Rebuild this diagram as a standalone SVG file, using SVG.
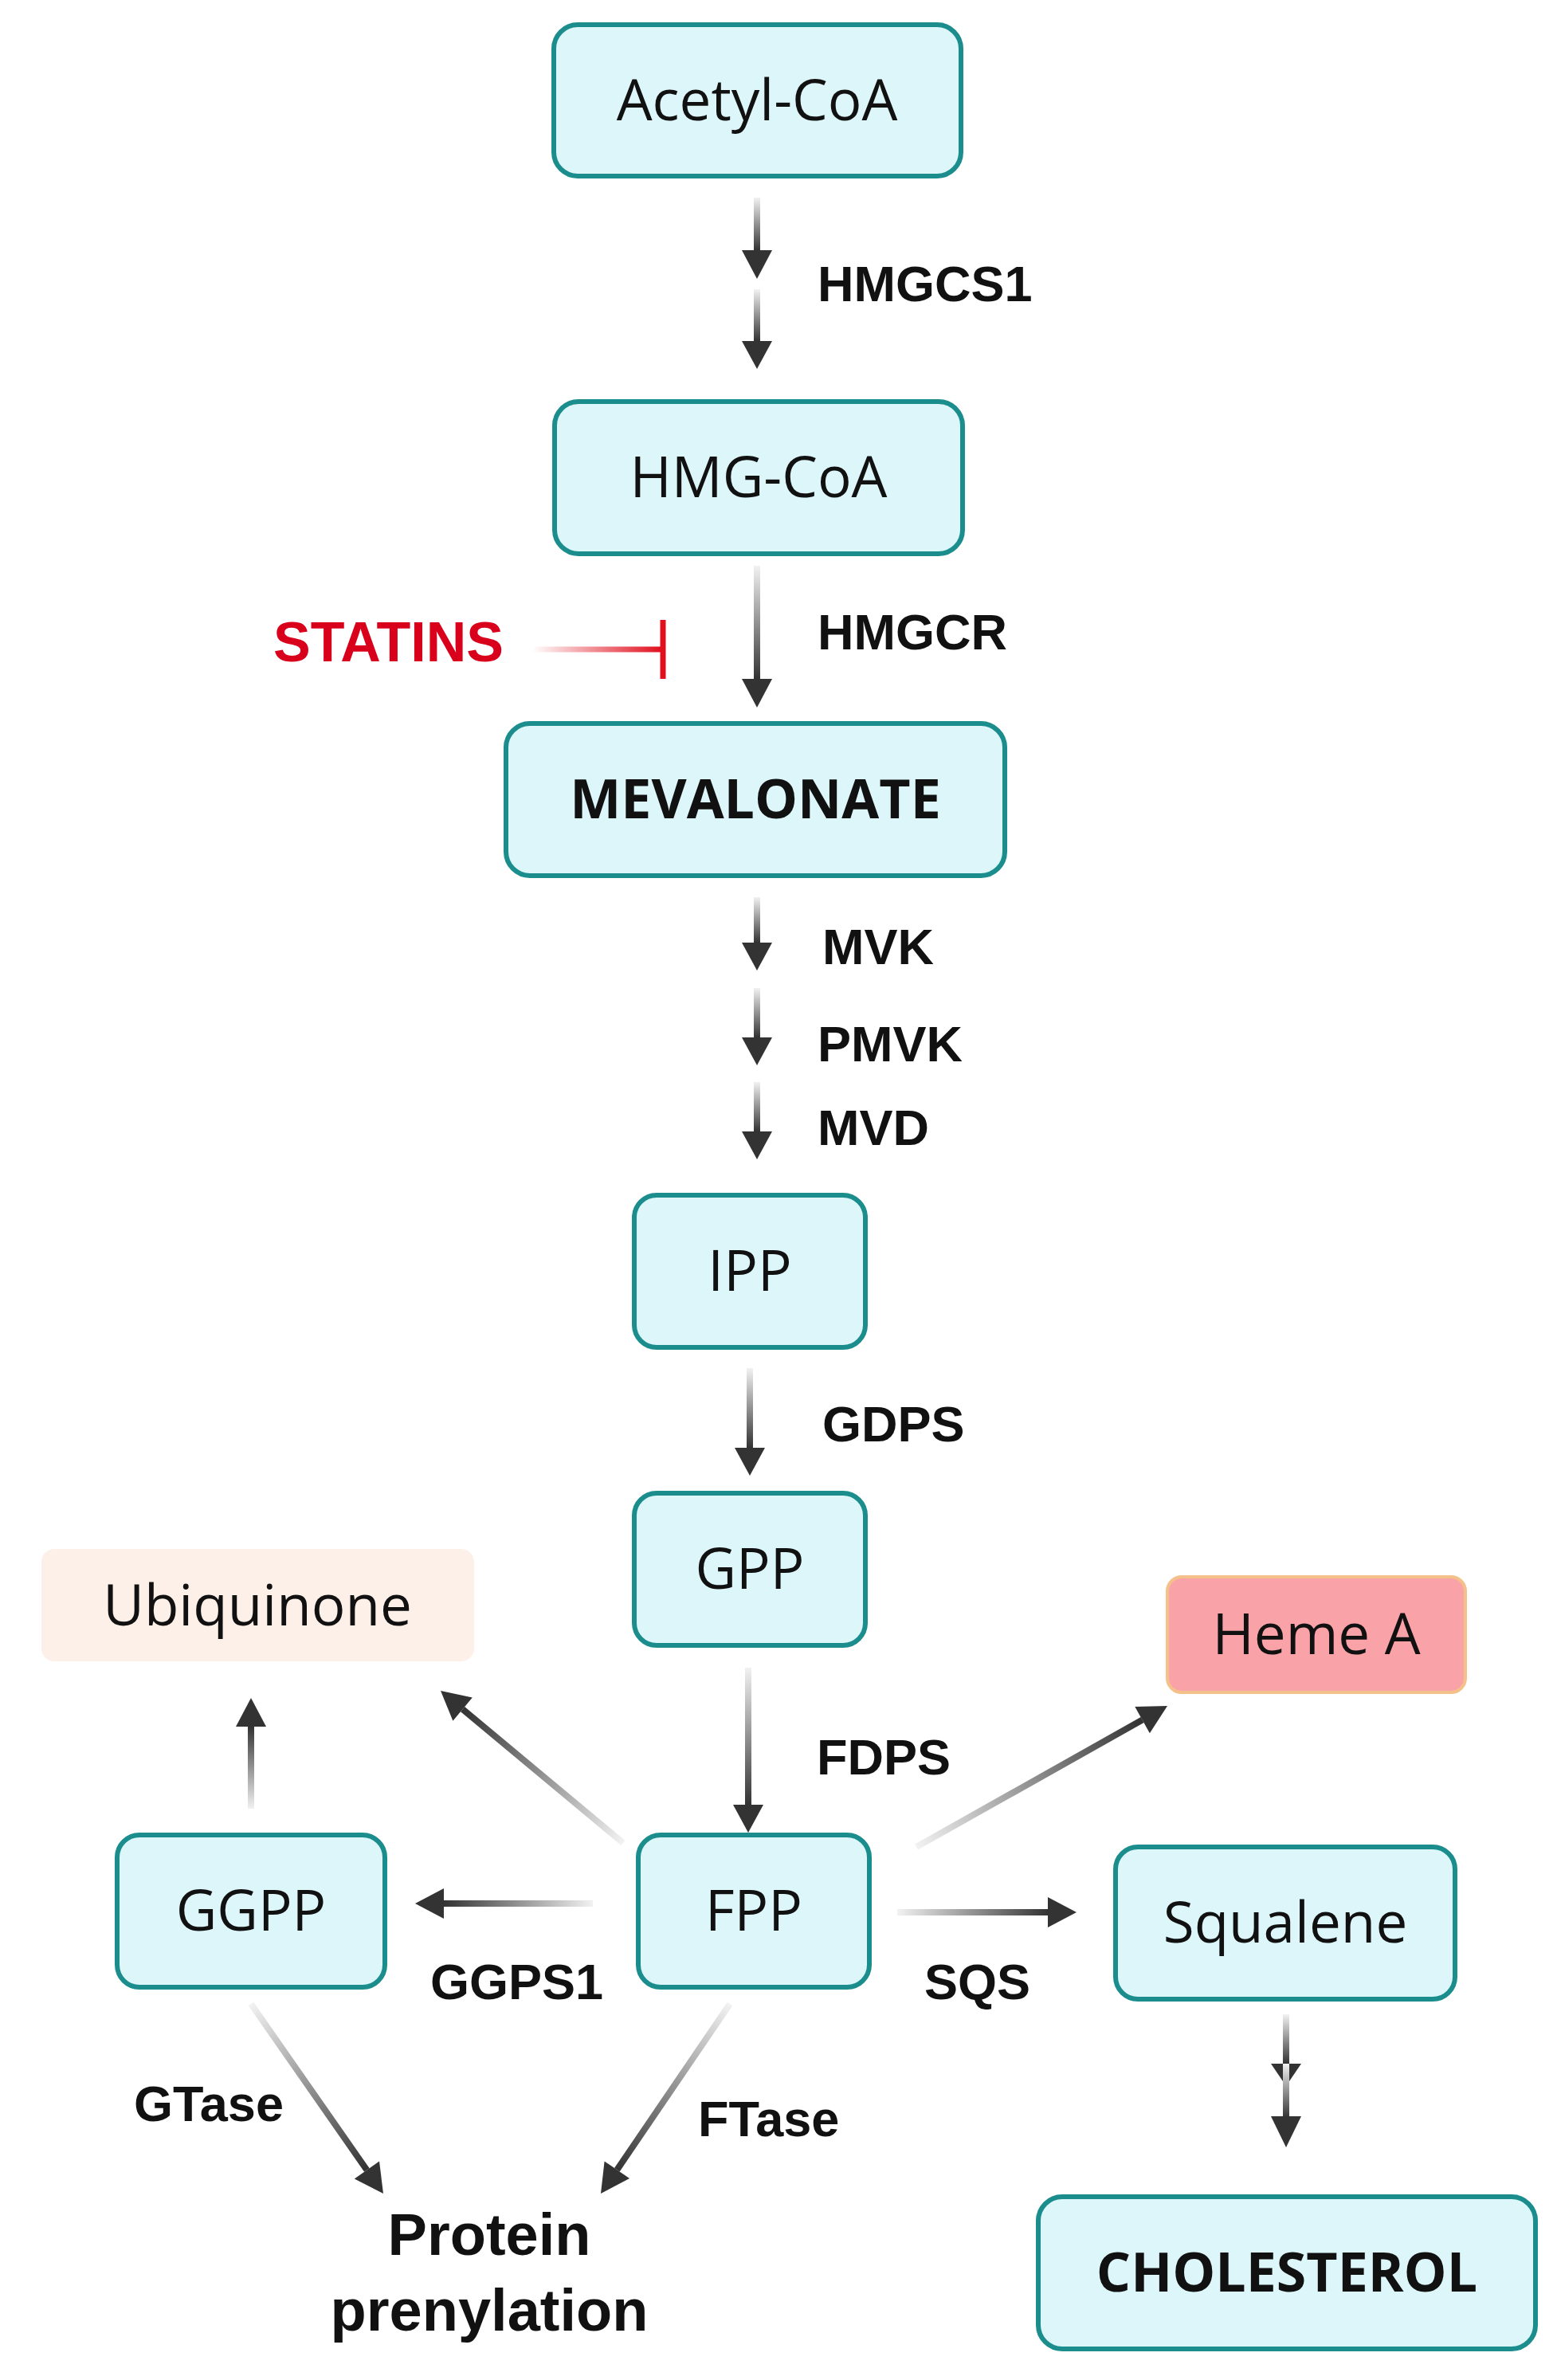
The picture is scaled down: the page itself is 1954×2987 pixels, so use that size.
<svg xmlns="http://www.w3.org/2000/svg" width="1954" height="2987" viewBox="0 0 1954 2987">
<style>
.box{fill:#dcf6fa;stroke:#1a8d8c;stroke-width:6}
.nt{font-family:"Open Sans","Noto Sans",sans-serif;font-size:71px;fill:#111;text-anchor:middle}
.nb{font-family:"Open Sans","Noto Sans",sans-serif;font-size:68px;font-weight:bold;fill:#111;text-anchor:middle}
.lb{font-family:"Liberation Sans",Arial,sans-serif;font-size:63px;font-weight:bold;fill:#111}
.hd{fill:#333}
line.a{stroke-width:8}
</style>
<rect width="1954" height="2987" fill="#fff"/>
<g id="acetyl"><rect class="box" x="695" y="31" width="511" height="190" rx="30"/><text class="nt" x="950" y="151">Acetyl-CoA</text></g>
<g id="hmgcoa"><rect class="box" x="696" y="504" width="512" height="191" rx="30"/><text class="nt" x="952" y="624">HMG-CoA</text></g>
<g id="mevalonate"><rect class="box" x="635" y="908" width="626" height="191" rx="30"/><text class="nb" x="948" y="1027">MEVALONATE</text></g>
<g id="ipp"><rect class="box" x="796" y="1500" width="290" height="191" rx="28"/><text class="nt" x="941" y="1620">IPP</text></g>
<g id="gpp"><rect class="box" x="796" y="1874" width="290" height="191" rx="28"/><text class="nt" x="941" y="1994">GPP</text></g>
<g id="fpp"><rect class="box" x="801" y="2303" width="290" height="191" rx="28"/><text class="nt" x="946" y="2423">FPP</text></g>
<g id="ggpp"><rect class="box" x="147" y="2303" width="336" height="191" rx="28"/><text class="nt" x="315" y="2423">GGPP</text></g>
<g id="squalene"><rect class="box" x="1400" y="2318" width="426" height="191" rx="28"/><text class="nt" x="1613" y="2438">Squalene</text></g>
<g id="cholesterol"><rect class="box" x="1303" y="2757" width="624" height="191" rx="30"/><text class="nb" x="1615" y="2876">CHOLESTEROL</text></g>
<g id="ubiquinone"><rect x="52" y="1944" width="543" height="141" rx="16" fill="#fdf0e8"/><text class="nt" x="323" y="2040">Ubiquinone</text></g>
<g id="hemea"><rect x="1465" y="1979" width="374" height="145" rx="18" fill="#f9a3a8" stroke="#f5c18a" stroke-width="4"/><text class="nt" x="1652" y="2076">Heme A</text></g>
<g id="protein"><text class="lb" x="614" y="2830" text-anchor="middle" style="font-size:74px">Protein</text><text class="lb" x="614" y="2925" text-anchor="middle" style="font-size:74px">prenylation</text></g>
<g id="labels">
<text class="lb" x="1026" y="378">HMGCS1</text>
<text class="lb" x="1026" y="815">HMGCR</text>
<text class="lb" x="343" y="830" style="fill:#d9001b;font-size:70px">STATINS</text>
<text class="lb" x="1032" y="1210">MVK</text>
<text class="lb" x="1026" y="1332">PMVK</text>
<text class="lb" x="1026" y="1437">MVD</text>
<text class="lb" x="1032" y="1809">GDPS</text>
<text class="lb" x="1025" y="2227">FDPS</text>
<text class="lb" x="540" y="2509">GGPS1</text>
<text class="lb" x="1160" y="2509">SQS</text>
<text class="lb" x="168" y="2662">GTase</text>
<text class="lb" x="876" y="2681">FTase</text>
</g>
<g id="connectors">
<defs>
<linearGradient id="g1" gradientUnits="userSpaceOnUse" x1="0" y1="248" x2="0" y2="314"><stop offset="0" stop-color="#f2f2f2"/><stop offset="1" stop-color="#333"/></linearGradient>
<linearGradient id="g2" gradientUnits="userSpaceOnUse" x1="0" y1="363" x2="0" y2="428"><stop offset="0" stop-color="#f2f2f2"/><stop offset="1" stop-color="#333"/></linearGradient>
<linearGradient id="g3" gradientUnits="userSpaceOnUse" x1="0" y1="710" x2="0" y2="852"><stop offset="0" stop-color="#f2f2f2"/><stop offset="1" stop-color="#333"/></linearGradient>
<linearGradient id="g4" gradientUnits="userSpaceOnUse" x1="0" y1="1126" x2="0" y2="1183"><stop offset="0" stop-color="#f2f2f2"/><stop offset="1" stop-color="#333"/></linearGradient>
<linearGradient id="g5" gradientUnits="userSpaceOnUse" x1="0" y1="1240" x2="0" y2="1302"><stop offset="0" stop-color="#f2f2f2"/><stop offset="1" stop-color="#333"/></linearGradient>
<linearGradient id="g6" gradientUnits="userSpaceOnUse" x1="0" y1="1358" x2="0" y2="1420"><stop offset="0" stop-color="#f2f2f2"/><stop offset="1" stop-color="#333"/></linearGradient>
<linearGradient id="g7" gradientUnits="userSpaceOnUse" x1="0" y1="1717" x2="0" y2="1817"><stop offset="0" stop-color="#f2f2f2"/><stop offset="1" stop-color="#333"/></linearGradient>
<linearGradient id="g8" gradientUnits="userSpaceOnUse" x1="0" y1="2093" x2="0" y2="2265"><stop offset="0" stop-color="#f2f2f2"/><stop offset="1" stop-color="#333"/></linearGradient>
<linearGradient id="g9" gradientUnits="userSpaceOnUse" x1="782" y1="2313" x2="580.6" y2="2145.1"><stop offset="0" stop-color="#f2f2f2"/><stop offset="1" stop-color="#333"/></linearGradient>
<linearGradient id="g10" gradientUnits="userSpaceOnUse" x1="1150" y1="2318" x2="1433.6" y2="2158.6"><stop offset="0" stop-color="#f2f2f2"/><stop offset="1" stop-color="#333"/></linearGradient>
<linearGradient id="g11" gradientUnits="userSpaceOnUse" x1="744" y1="0" x2="557" y2="0"><stop offset="0" stop-color="#f2f2f2"/><stop offset="1" stop-color="#333"/></linearGradient>
<linearGradient id="g12" gradientUnits="userSpaceOnUse" x1="1126" y1="0" x2="1315" y2="0"><stop offset="0" stop-color="#f2f2f2"/><stop offset="1" stop-color="#333"/></linearGradient>
<linearGradient id="g13" gradientUnits="userSpaceOnUse" x1="0" y1="2270" x2="0" y2="2167"><stop offset="0" stop-color="#f2f2f2"/><stop offset="1" stop-color="#333"/></linearGradient>
<linearGradient id="g14" gradientUnits="userSpaceOnUse" x1="315" y1="2515" x2="460.4" y2="2723.5"><stop offset="0" stop-color="#f2f2f2"/><stop offset="1" stop-color="#333"/></linearGradient>
<linearGradient id="g15" gradientUnits="userSpaceOnUse" x1="916" y1="2515" x2="774.3" y2="2723.2"><stop offset="0" stop-color="#f2f2f2"/><stop offset="1" stop-color="#333"/></linearGradient>
<linearGradient id="g16" gradientUnits="userSpaceOnUse" x1="0" y1="2528" x2="0" y2="2590"><stop offset="0" stop-color="#f2f2f2"/><stop offset="1" stop-color="#333"/></linearGradient>
<linearGradient id="g17" gradientUnits="userSpaceOnUse" x1="0" y1="2590" x2="0" y2="2658"><stop offset="0" stop-color="#f2f2f2"/><stop offset="1" stop-color="#333"/></linearGradient>
<linearGradient id="gr" gradientUnits="userSpaceOnUse" x1="668" y1="0" x2="830" y2="0"><stop offset="0" stop-color="#fff"/><stop offset="1" stop-color="#e0101e"/></linearGradient>
</defs>
<line class="a" x1="950" y1="248" x2="950" y2="316" stroke="url(#g1)"/><polygon class="hd" points="931,314 969,314 950,350"/>
<line class="a" x1="950" y1="363" x2="950" y2="430" stroke="url(#g2)"/><polygon class="hd" points="931,428 969,428 950,463"/>
<line class="a" x1="950" y1="710" x2="950" y2="854" stroke="url(#g3)"/><polygon class="hd" points="931,852 969,852 950,888"/>
<line x1="670" y1="815" x2="832" y2="815" stroke="url(#gr)" stroke-width="7"/><line x1="832" y1="778" x2="832" y2="852" stroke="#e0101e" stroke-width="7"/>
<line class="a" x1="950" y1="1126" x2="950" y2="1185" stroke="url(#g4)"/><polygon class="hd" points="931,1183 969,1183 950,1218"/>
<line class="a" x1="950" y1="1240" x2="950" y2="1304" stroke="url(#g5)"/><polygon class="hd" points="931,1302 969,1302 950,1337"/>
<line class="a" x1="950" y1="1358" x2="950" y2="1422" stroke="url(#g6)"/><polygon class="hd" points="931,1420 969,1420 950,1455"/>
<line class="a" x1="941" y1="1717" x2="941" y2="1819" stroke="url(#g7)"/><polygon class="hd" points="922,1817 960,1817 941,1852"/>
<line class="a" x1="939" y1="2093" x2="939" y2="2267" stroke="url(#g8)"/><polygon class="hd" points="920,2265 958,2265 939,2300"/>
<line class="a" x1="782" y1="2313" x2="580.6" y2="2145.1" stroke="url(#g9)"/><polygon class="hd" points="553,2122 592.8,2130.5 568.4,2159.7"/>
<line class="a" x1="1150" y1="2318" x2="1433.6" y2="2158.6" stroke="url(#g10)"/><polygon class="hd" points="1465,2141 1442.9,2175.2 1424.3,2142"/>
<line class="a" x1="744" y1="2389" x2="555" y2="2389" stroke="url(#g11)"/><polygon class="hd" points="557,2370 557,2408 521,2389"/>
<line class="a" x1="1126" y1="2400" x2="1317" y2="2400" stroke="url(#g12)"/><polygon class="hd" points="1315,2381 1315,2419 1351,2400"/>
<line class="a" x1="315" y1="2270" x2="315" y2="2165" stroke="url(#g13)"/><polygon class="hd" points="296,2167 334,2167 315,2131"/>
<line class="a" x1="315" y1="2515" x2="460.4" y2="2723.5" stroke="url(#g14)"/><polygon class="hd" points="481,2753 476,2712.6 444.8,2734.4"/>
<line class="a" x1="916" y1="2515" x2="774.3" y2="2723.2" stroke="url(#g15)"/><polygon class="hd" points="754,2753 790,2733.9 758.6,2712.5"/>
<line class="a" x1="1614" y1="2528" x2="1614" y2="2592" stroke="url(#g16)"/><polygon class="hd" points="1595,2590 1633,2590 1614,2618"/>
<line class="a" x1="1614" y1="2590" x2="1614" y2="2660" stroke="url(#g17)"/><polygon class="hd" points="1595,2656 1633,2656 1614,2695"/>
</g>
</svg>
